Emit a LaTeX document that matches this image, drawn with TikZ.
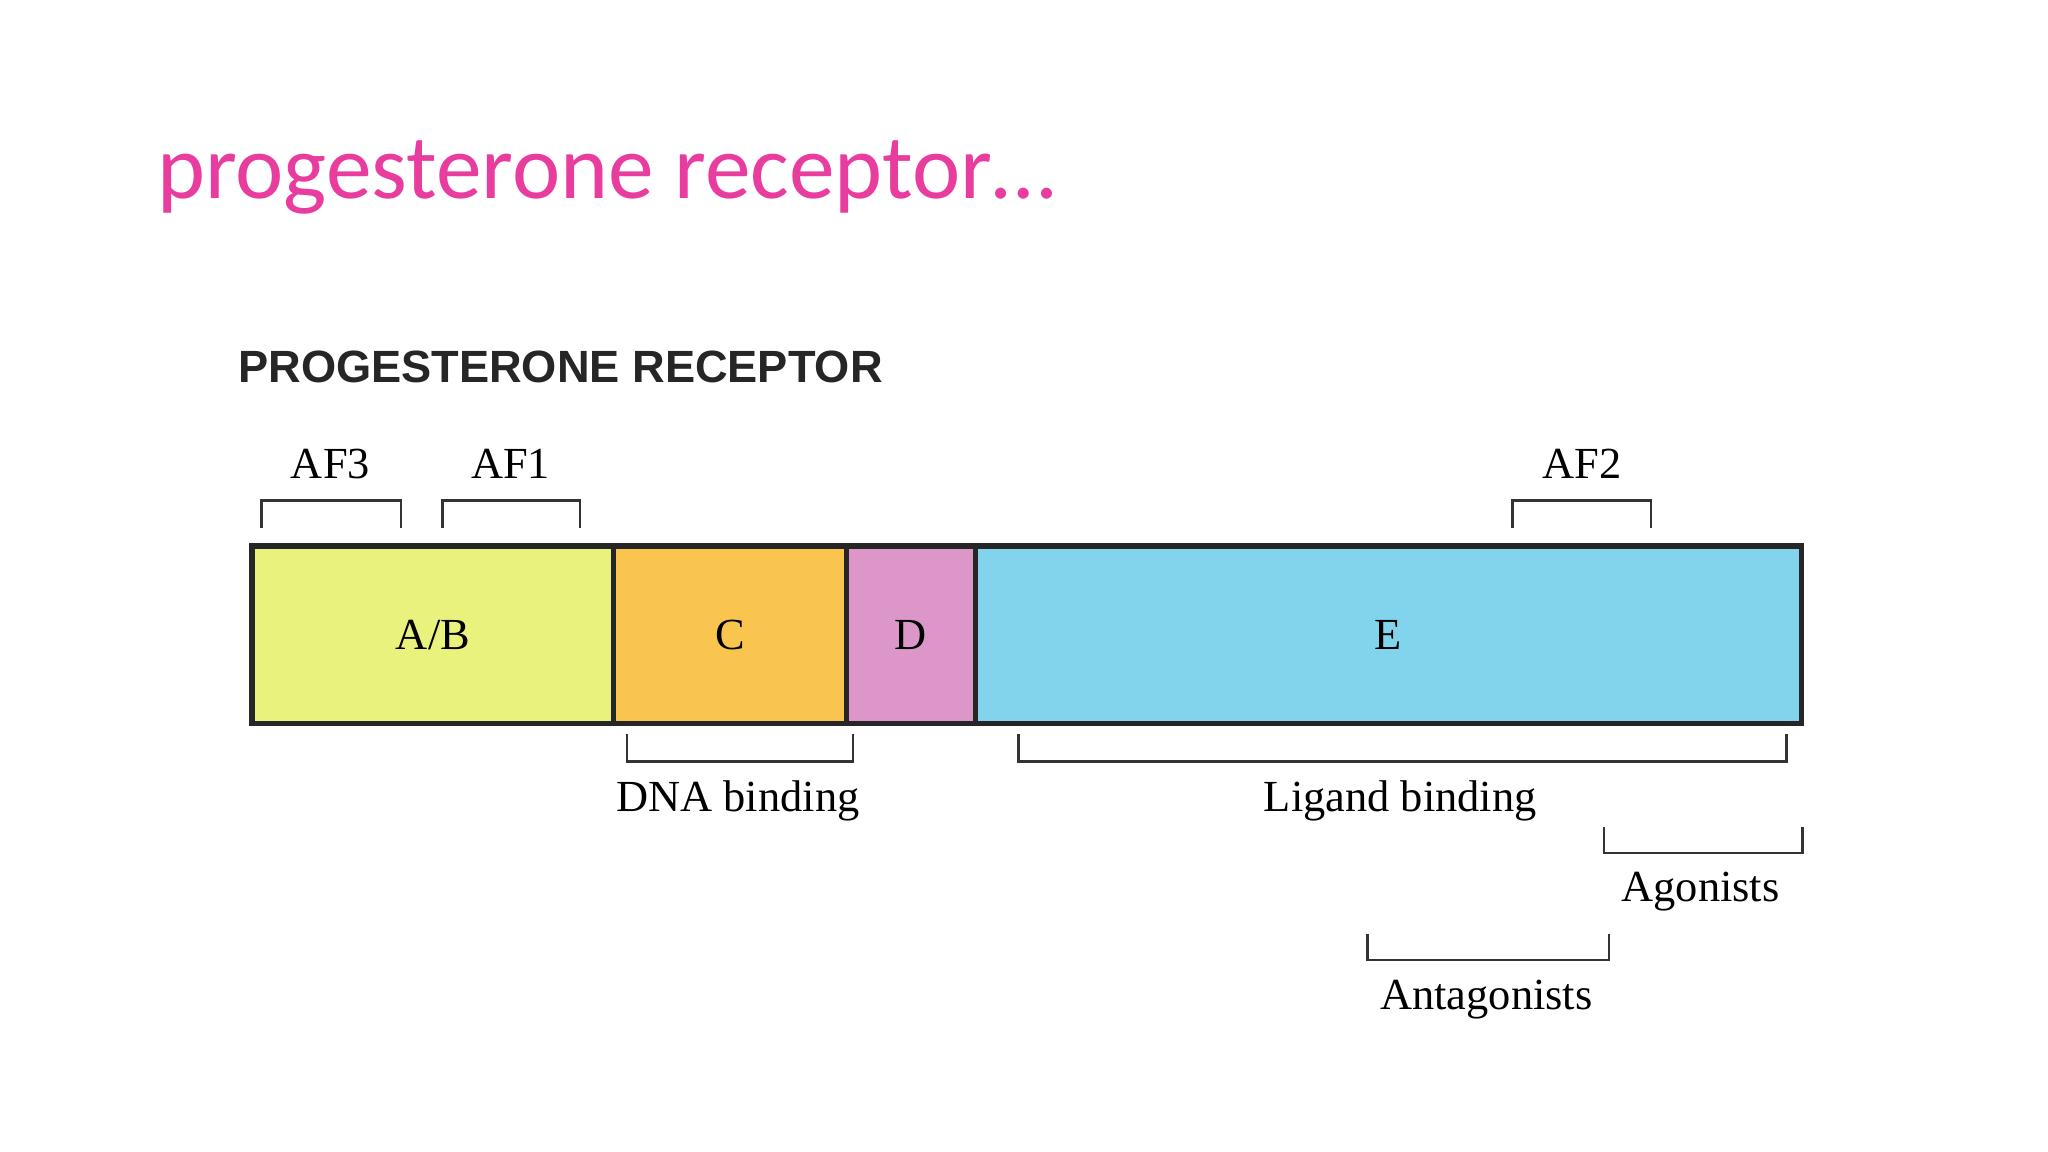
\documentclass[tikz,border=0pt]{standalone}
\usepackage{fontspec}
\setmainfont{Liberation Serif}
\newfontfamily\titlefont{Carlito}
\newfontfamily\headfont{Liberation Sans}
\definecolor{pinkt}{HTML}{E83C9E}
\definecolor{cab}{HTML}{E9F27C}
\definecolor{cc}{HTML}{F9C54F}
\definecolor{cd}{HTML}{DC96C8}
\definecolor{ce}{HTML}{82D4EC}
\begin{document}
\begin{tikzpicture}[x=0.5pt,y=-0.5pt,
  dom/.style={draw=black!85,line width=2pt,inner sep=0pt,anchor=north west,font=\fontsize{17}{20}\selectfont},
  br/.style={draw=black!80,line width=1pt},
  lab/.style={font=\fontsize{17}{20}\selectfont,inner sep=0pt}]
\useasboundingbox (0,0) rectangle (1568,882);
\node[anchor=base west,inner sep=0pt,text=pinkt,font=\titlefont\fontsize{35}{40}\selectfont] (title) at (120,152) {progesterone receptor…};
\node[anchor=base west,inner sep=0pt,font=\headfont\bfseries\fontsize{17.3}{20}\selectfont,text=black!85] (head) at (182,293) {PROGESTERONE RECEPTOR};
\node[dom,fill=cab,minimum width=277pt*0.5,minimum height=136pt*0.5] (ab) at (191,416) {A/B};
\node[dom,fill=cc,minimum width=178pt*0.5,minimum height=136pt*0.5] (c) at (468,416) {C};
\node[dom,fill=cd,minimum width=99pt*0.5,minimum height=136pt*0.5] (d) at (646,416) {D};
\node[dom,fill=ce,minimum width=632pt*0.5,minimum height=136pt*0.5] (e) at (745,416) {E};
% top brackets
\draw[br] (200,404) |- (307,383) -- (307,404);
\node[lab] (af3) at (253,355) {AF3};
\draw[br] (339,404) |- (444,383) -- (444,404);
\node[lab] (af1) at (391,355) {AF1};
\draw[br] (1158,404) |- (1264,383) -- (1264,404);
\node[lab] (af2) at (1211,355) {AF2};
% bottom brackets
\draw[br] (480,562) |- (653,583) -- (653,562);
\node[lab] (dna) at (565,613) {DNA binding};
\draw[br] (780,562) |- (1368,583) -- (1368,562);
\node[lab] (lig) at (1072,613) {Ligand binding};
\draw[br] (1228,633) |- (1380,653) -- (1380,633);
\node[lab] (ago) at (1302,683) {Agonists};
\draw[br] (1047,715) |- (1232,735) -- (1232,715);
\node[lab] (ant) at (1138,765) {Antagonists};
\end{tikzpicture}
\end{document}
